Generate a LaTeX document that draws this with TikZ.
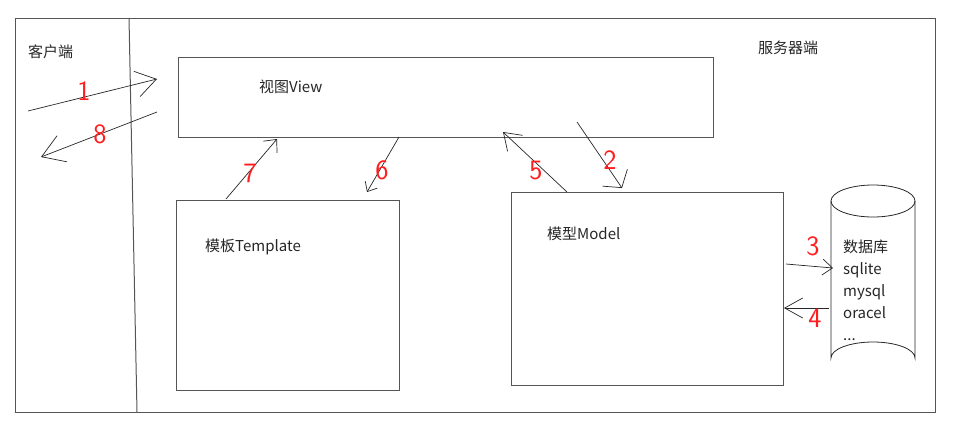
\documentclass[tikz,border=0pt]{standalone}
\usepackage{fontspec}
\setmainfont{Noto Sans CJK SC}
\usetikzlibrary{arrows.meta}
\definecolor{frm}{HTML}{555555}
\definecolor{hand}{RGB}{255,30,30}
\tikzset{
  box/.style={draw=frm, line width=1pt, anchor=north west, inner sep=0pt},
  lbl/.style={anchor=west, inner sep=0pt, font=\fontsize{15}{18}\selectfont, text=black!85},
  num/.style={text=hand, font=\sffamily\fontsize{28}{28}\selectfont, inner sep=0pt},
  conn/.style={draw=black!85, line width=0.7pt},
}
\begin{document}
\begin{tikzpicture}[x=1pt,y=-1pt]
\useasboundingbox (0,0) rectangle (953,426);
% outer frame
\node[box, minimum width=920pt, minimum height=394pt] (frame) at (15,18) {};
\coordinate (divtop) at (129,18);
\coordinate (divbot) at (137,412);
\draw[frm, line width=1pt] (divtop) -- (divbot);
\node[lbl] (client) at (28,52) {客户端};
\node[lbl] (server) at (758,48) {服务器端};
% boxes
\node[box, minimum width=535pt, minimum height=80pt] (view) at (178,57) {};
\node[lbl] (viewlbl) at (259,87) {视图View};
\node[box, minimum width=223pt, minimum height=190pt] (tmpl) at (176,200) {};
\node[lbl] (tmpllbl) at (205,247) {模板Template};
\node[box, minimum width=272pt, minimum height=193pt] (model) at (511,192) {};
\node[lbl] (modellbl) at (547,234) {模型Model};
% database cylinder
\node[inner sep=0pt, minimum width=84pt, minimum height=189pt, anchor=north west] (db) at (831,185) {};
\draw[black!85, line width=0.8pt] (873,201) ellipse [x radius=42, y radius=16];
\draw[black!85, line width=0.8pt] (831,201) -- (831,358) arc[start angle=180, end angle=360, x radius=42, y radius=16] -- (915,201);
\node[lbl, align=left, anchor=north west, font=\fontsize{15}{22}\selectfont] (dbtext) at (843,240) {数据库\\sqlite\\mysql\\oracel\\...};
% connectors
\coordinate (a1s) at (28,111); \coordinate (a1e) at (157,79);
\draw[conn, -{Straight Barb[length=20pt,width=26pt,line width=0.7pt]}] (a1s) -- (a1e);
\coordinate (a8s) at (157,112); \coordinate (a8e) at (41,157);
\draw[conn, -{Straight Barb[length=22pt,width=28pt,line width=0.7pt]}] (a8s) -- (a8e);
\coordinate (a7s) at (226,199); \coordinate (a7e) at (277,139);
\draw[conn, -{Straight Barb[length=10pt,width=18pt,line width=0.7pt]}] (a7s) -- (a7e);
\coordinate (a6s) at (399,137); \coordinate (a6e) at (367,192);
\draw[conn, -{Straight Barb[length=8pt,width=14pt,line width=0.7pt]}] (a6s) -- (a6e);
\coordinate (a5s) at (567,192); \coordinate (a5e) at (503,132);
\draw[conn, -{Straight Barb[length=16pt,width=22pt,line width=0.7pt]}] (a5s) -- (a5e);
\coordinate (a2s) at (577,122); \coordinate (a2e) at (622,188);
\draw[conn, -{Straight Barb[length=12pt,width=30pt,line width=0.7pt]}] (a2s) -- (a2e);
\coordinate (a3s) at (786,264); \coordinate (a3e) at (833,268);
\draw[conn, -{Straight Barb[length=10pt,width=16pt,line width=0.7pt]}] (a3s) -- (a3e);
\coordinate (a4s) at (829,308); \coordinate (a4e) at (784,308);
\draw[conn, -{Straight Barb[length=18pt,width=20pt,line width=0.7pt]}] (a4s) -- (a4e);
% red step numbers
\node[num] (n1) at (84,91) {1};
\node[num] (n8) at (100,134) {8};
\node[num] (n7) at (250,173) {7};
\node[num] (n6) at (382,170) {6};
\node[num] (n5) at (536,171) {5};
\node[num] (n2) at (610,160) {2};
\node[num] (n3) at (813,246) {3};
\node[num] (n4) at (815,318) {4};
\end{tikzpicture}
\end{document}
